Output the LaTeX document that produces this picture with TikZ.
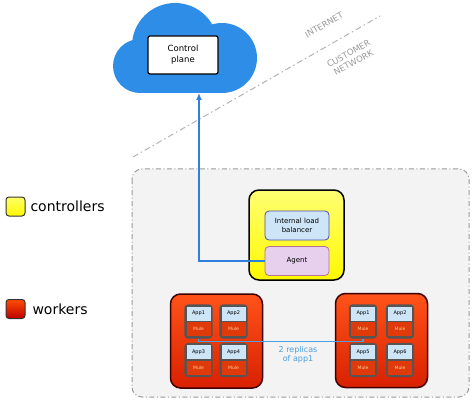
\documentclass[tikz,border=0pt]{standalone}
\usepackage{fontspec}
\setmainfont{DejaVu Sans}
\usepackage{tikz}
\usetikzlibrary{arrows.meta, positioning}
\definecolor{cloudBlue}{HTML}{2E8DE6}
\definecolor{linkBlue}{HTML}{2F7FE0}
\definecolor{replicaBlue}{HTML}{4A9FE0}
\definecolor{zoneGray}{HTML}{F3F3F3}
\definecolor{lbBlue}{HTML}{CDE5F7}
\definecolor{agentPurple}{HTML}{E6D0EE}
\definecolor{muleRed}{HTML}{E03A0A}
\definecolor{appFrame}{HTML}{555555}

\newcommand{\appunit}[4]{%
  \node[appframe] (#1) at (#2,#3) {};
  \node[apptop, anchor=north] (#1a) at ([yshift=-2pt]#1.north) {#4};
  \node[appmule, anchor=north] (#1m) at ([yshift=-1pt]#1a.south) {Mule};
}

\begin{document}
\begin{tikzpicture}[
  x=1pt, y=-1pt,
  font=\small,
  zone/.style={draw=gray!80, fill=zoneGray, rounded corners=10pt, line width=1pt,
               dash pattern=on 5pt off 2.5pt on 1pt off 2.5pt},
  border/.style={draw=gray!60, line width=1pt, dash pattern=on 6pt off 3pt on 1.5pt off 3pt},
  controller/.style={draw=black, rounded corners=10pt, line width=1.5pt,
                     top color=yellow!55!white, bottom color=yellow!95!orange,
                     minimum width=95pt, minimum height=90pt},
  worker/.style={draw=black!75!red, rounded corners=10pt, line width=1.5pt,
                 top color=orange!50!red!90!white, bottom color=red!70!orange!85!black,
                 minimum width=92pt, minimum height=94pt},
  inner/.style={rounded corners=4pt, minimum width=64pt, minimum height=29pt,
                line width=0.8pt, align=center, font=\fontsize{7}{8.5}\selectfont},
  appframe/.style={draw=appFrame, fill=appFrame, rounded corners=3pt, line width=1.2pt,
                   minimum width=27pt, minimum height=33pt, inner sep=0pt},
  apptop/.style={fill=lbBlue, minimum width=24pt, minimum height=14pt, inner sep=0pt,
                 font=\fontsize{5}{6}\selectfont},
  appmule/.style={fill=muleRed, minimum width=24pt, minimum height=14pt, inner sep=0pt,
                  text=orange!40!white, font=\fontsize{4.5}{5}\selectfont},
  legendbox/.style={draw=black!80, rounded corners=3pt, minimum size=19pt, line width=1pt},
  legendtext/.style={font=\fontsize{14}{16}\selectfont, anchor=west},
  link/.style={-{Latex[length=7pt, width=6pt]}, draw=linkBlue, line width=1.5pt},
  replica/.style={draw=replicaBlue, line width=1.6pt}
]
\useasboundingbox (0,0) rectangle (474,401);

% internet side
\fill[cloudBlue] (175,46) circle (43);
\fill[cloudBlue] (140,66) circle (27);
\fill[cloudBlue] (222,58) circle (35);
\fill[cloudBlue] (140,50) rectangle (222,93);
\coordinate (cloudbase) at (199,93);
\node[draw=black, fill=white, rounded corners=2pt, line width=1.2pt, minimum width=70pt,
      minimum height=38pt, align=center, font=\fontsize{8.5}{11}\selectfont]
      (control) at (183,55) {Control\\plane};

\draw[border] (133,157) -- (380,16);
\node[text=gray!80, rotate=30, font=\fontsize{8.5}{10}\selectfont] (internet) at (324,25) {INTERNET};
\node[text=gray!80, rotate=29, align=center, font=\fontsize{8.5}{10}\selectfont]
      (customer) at (351,58) {CUSTOMER\\NETWORK};

% customer network
\draw[zone] (132,169) rectangle (469,397);

\node[controller] (ctrl) at (296.5,235) {};
\node[inner, draw=gray!60!blue, fill=lbBlue] (lb) at (297,225.5) {Internal load\\balancer};
\node[inner, draw=gray!60!magenta, fill=agentPurple] (agent) at (297,261) {Agent};

\node[worker] (wleft) at (216.5,341) {};
\node[worker] (wright) at (381.5,340.5) {};

\appunit{l1}{198.5}{321.5}{App1}
\appunit{l2}{233.5}{321.5}{App2}
\appunit{l3}{198.5}{360}{App3}
\appunit{l4}{233.5}{360}{App4}
\appunit{r1}{363}{321.5}{App1}
\appunit{r2}{400}{321.5}{App2}
\appunit{r3}{363}{360}{App5}
\appunit{r4}{400}{360}{App6}

\draw[link] (agent.west) -| (cloudbase);
\draw[replica] (l1.south) -- ++(0,3) -| (r1.south);
\node[text=replicaBlue, align=center, font=\fontsize{8}{9.5}\selectfont]
      (replicas) at (298,355) {2 replicas\\of app1};

% legend
\node[legendbox, top color=yellow!60!white, bottom color=yellow!95!orange] (legctrl) at (15.5,206.5) {};
\node[legendtext] (legctrltext) at (27,206) {controllers};
\node[legendbox, top color=orange!60!red, bottom color=red!75!black] (legwork) at (15.5,309) {};
\node[legendtext] (legworktext) at (29,309) {workers};
\end{tikzpicture}
\end{document}
